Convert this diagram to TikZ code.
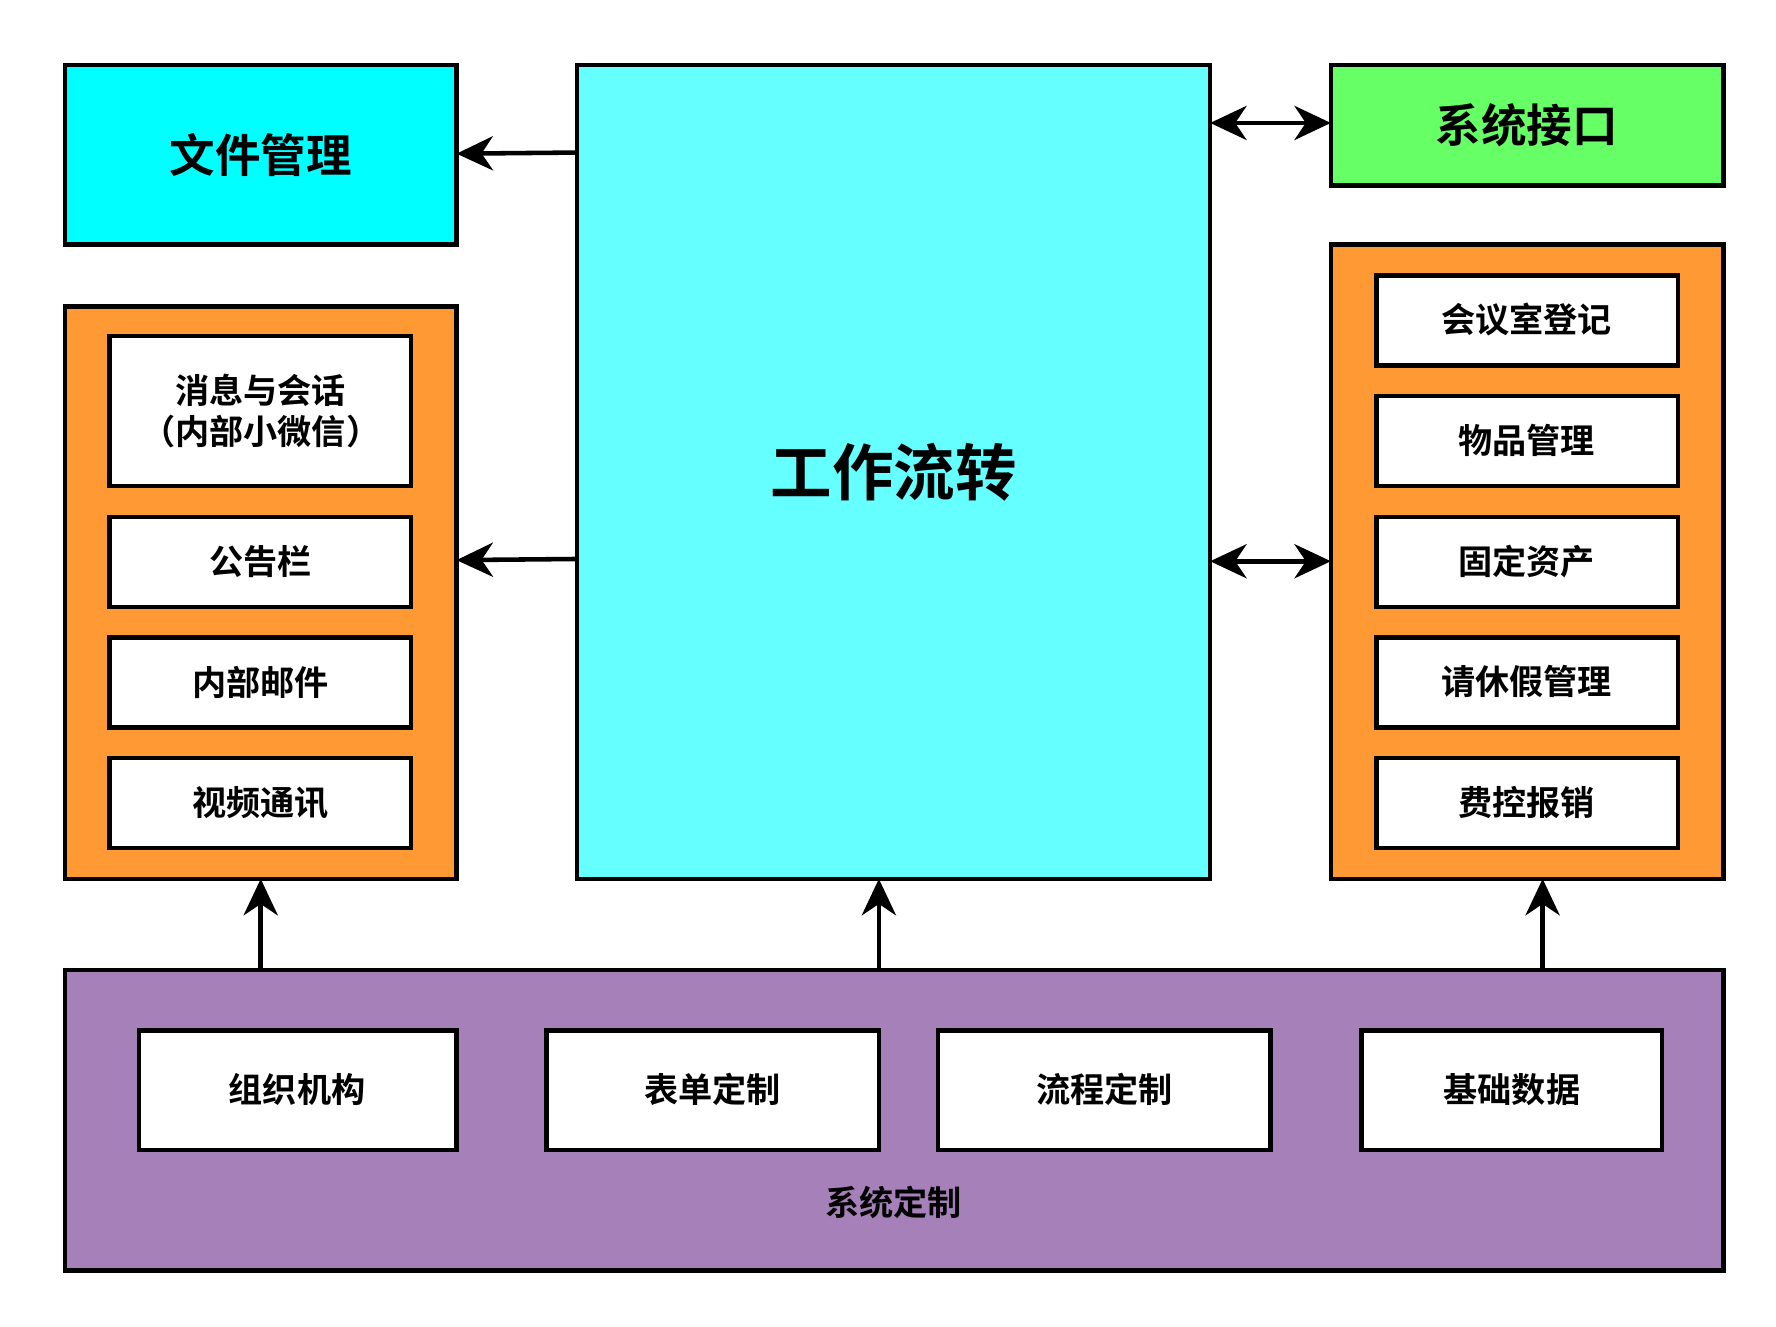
\documentclass[tikz,border=0pt]{standalone}
\usepackage{fontspec}
\newfontfamily\cjk{Noto Sans CJK SC Bold}
\usetikzlibrary{arrows.meta}
\begin{document}
\begin{tikzpicture}[x=0.5pt,y=-0.5pt,
  bx/.style={draw=black,line width=2pt,fill=white},
  lbl/.style={font=\cjk\fontsize{15}{18}\selectfont,align=center},
  arr/.style={line width=2pt,-{Stealth[length=16pt,width=15pt,inset=5pt]}},
  darr/.style={line width=2pt,{Stealth[length=16pt,width=15pt,inset=5pt]}-{Stealth[length=16pt,width=15pt,inset=5pt]}}]
\useasboundingbox (0,0) rectangle (1560,1165);
\definecolor{orng}{HTML}{FF9933}
% top-left
\draw[bx,fill={rgb,255:red,0;green,255;blue,255}] (57,57) rectangle (401,215);
\node[font=\cjk\fontsize{20}{24}\selectfont] (wj) at (229,136) {文件管理};
% left group
\draw[bx,fill=orng] (57,269) rectangle (401,772);
\draw[bx] (96,295) rectangle (361,427); \node[lbl] (l1) at (229,361) {消息与会话\\（内部小微信）};
\draw[bx] (96,454) rectangle (361,533); \node[lbl] (l2) at (229,493) {公告栏};
\draw[bx] (96,560) rectangle (361,639); \node[lbl] (l3) at (229,599) {内部邮件};
\draw[bx] (96,666) rectangle (361,745); \node[lbl] (l4) at (229,705) {视频通讯};
% center
\draw[bx,fill={rgb,255:red,102;green,255;blue,255}] (507,57) rectangle (1063,772);
\node[font=\cjk\fontsize{27}{30}\selectfont] (gz) at (785,415) {工作流转};
% right
\draw[bx,fill={rgb,255:red,102;green,255;blue,102}] (1169,57) rectangle (1514,163);
\node[font=\cjk\fontsize{20}{24}\selectfont] (jk) at (1341,110) {系统接口};
\draw[bx,fill=orng] (1169,215) rectangle (1514,772);
\draw[bx] (1209,242) rectangle (1474,321); \node[lbl] at (1341,281) {会议室登记};
\draw[bx] (1209,348) rectangle (1474,427); \node[lbl] at (1341,387) {物品管理};
\draw[bx] (1209,454) rectangle (1474,533); \node[lbl] at (1341,493) {固定资产};
\draw[bx] (1209,560) rectangle (1474,639); \node[lbl] at (1341,599) {请休假管理};
\draw[bx] (1209,666) rectangle (1474,745); \node[lbl] at (1341,705) {费控报销};
% bottom
\draw[bx,fill={rgb,255:red,166;green,128;blue,184}] (57,852) rectangle (1514,1116);
\draw[bx] (122,905) rectangle (401,1010); \node[lbl] at (261,957) {组织机构};
\draw[bx] (480,905) rectangle (772,1010); \node[lbl] at (626,957) {表单定制};
\draw[bx] (824,905) rectangle (1116,1010); \node[lbl] at (970,957) {流程定制};
\draw[bx] (1196,905) rectangle (1460,1010); \node[lbl] at (1328,957) {基础数据};
\node[lbl] (sd) at (785,1056) {系统定制};
% connectors
\coordinate (c1) at (507,134); \coordinate (t1) at (401,135);
\coordinate (c2) at (507,491); \coordinate (t2) at (401,492);
\draw[arr] (c1) -- (t1);
\draw[arr] (c2) -- (t2);
\coordinate (r1a) at (1063,108); \coordinate (r1b) at (1169,108);
\coordinate (r2a) at (1063,493); \coordinate (r2b) at (1169,493);
\draw[darr] (r1a) -- (r1b);
\draw[darr] (r2a) -- (r2b);
\coordinate (u1a) at (229,852); \coordinate (u1b) at (229,772);
\coordinate (u2a) at (772,852); \coordinate (u2b) at (772,772);
\coordinate (u3a) at (1355,852); \coordinate (u3b) at (1355,772);
\draw[arr] (u1a) -- (u1b);
\draw[arr] (u2a) -- (u2b);
\draw[arr] (u3a) -- (u3b);
\end{tikzpicture}
\end{document}
